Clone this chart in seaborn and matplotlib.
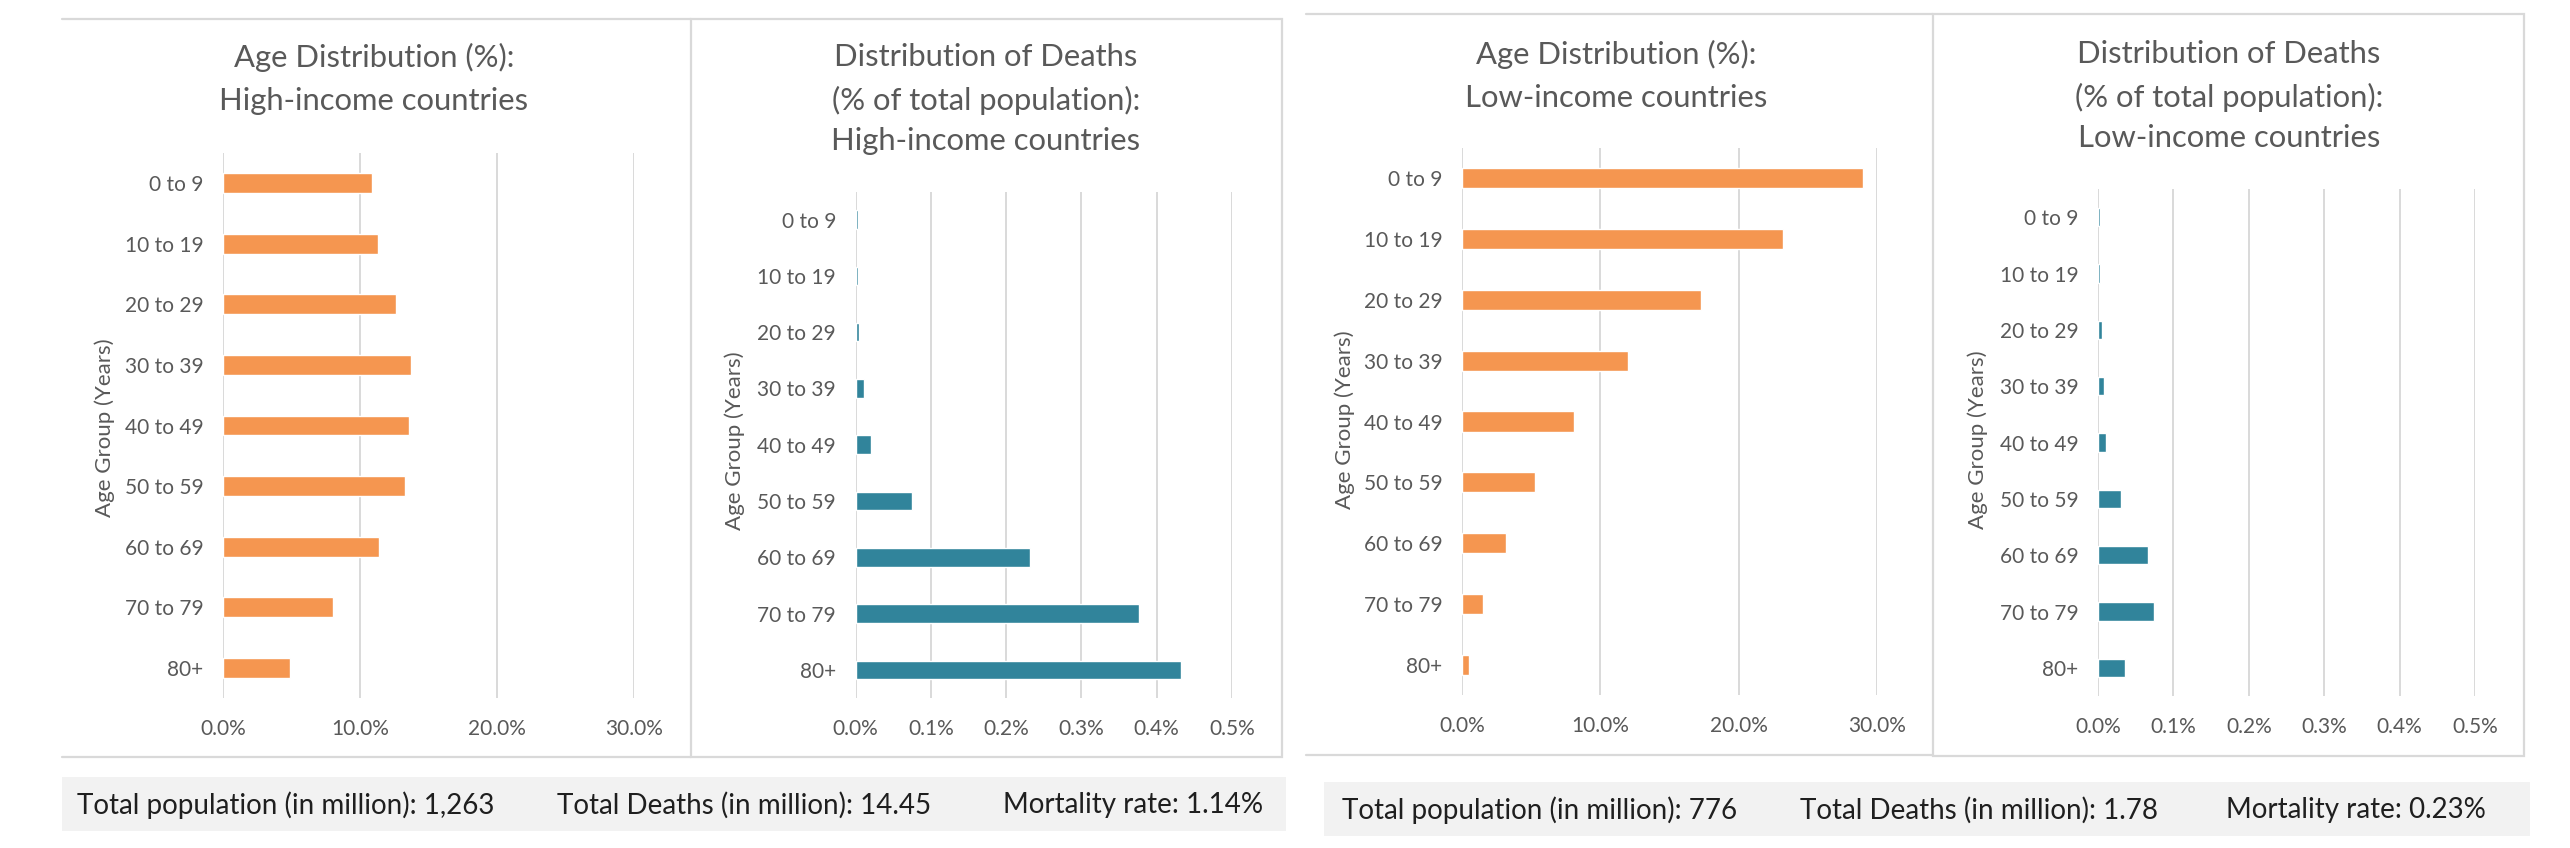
"""
Age distribution vs distribution of deaths, high- and low-income countries
(four horizontal bar panels, two summary bands underneath)
"""

import matplotlib
matplotlib.use("Agg")
import matplotlib.pyplot as plt
from matplotlib.lines import Line2D
from matplotlib.patches import Rectangle
from matplotlib.ticker import FuncFormatter
import seaborn as sns

# DATA #########################################################################
AGE_GROUPS = ['0 to 9', '10 to 19', '20 to 29', '30 to 39', '40 to 49',
              '50 to 59', '60 to 69', '70 to 79', '80+']

HIGH_AGE_PCT = [10.9, 11.3, 12.6, 13.7, 13.6, 13.3, 11.4, 8.0, 4.9]
HIGH_DEATH_PCT = [0.003, 0.003, 0.005, 0.011, 0.020, 0.075, 0.232, 0.377, 0.432]
LOW_AGE_PCT = [29.0, 23.2, 17.3, 12.0, 8.1, 5.3, 3.2, 1.5, 0.5]
LOW_DEATH_PCT = [0.003, 0.003, 0.005, 0.008, 0.010, 0.030, 0.066, 0.074, 0.036]

AGE_TICKS = [0, 10, 20, 30]
DEATH_TICKS = [0.0, 0.1, 0.2, 0.3, 0.4, 0.5]

TITLES = [
    ['Age Distribution (%):', 'High-income countries'],
    ['Distribution of Deaths', '(% of total population):', 'High-income countries'],
    ['Age Distribution (%):', 'Low-income countries'],
    ['Distribution of Deaths', '(% of total population):', 'Low-income countries'],
]
HIGH_FOOTER = ['Total population (in million): 1,263',
               'Total Deaths (in million): 14.45',
               'Mortality rate: 1.14%']
LOW_FOOTER = ['Total population (in million): 776',
              'Total Deaths (in million): 1.78',
              'Mortality rate: 0.23%']

# settings
W, H = 2570, 848
ORANGE = '#F59650'
TEAL = '#31849B'
GRID = '#d9d9d9'
GREY_TXT = '#595959'
FONT = ['Lato', 'DejaVu Sans']


def fx(x):
    return x / W


def fy(y):
    return 1 - y / H


def add_line(fig, x0, y0, x1, y1):
    fig.add_artist(Line2D([fx(x0), fx(x1)], [fy(y0), fy(y1)],
                          transform=fig.transFigure, color=GRID, lw=1.6))


def bar_panel(fig, rect, values, color, ticks):
    left, right, top, bottom = rect
    ax = fig.add_axes([fx(left), fy(bottom), (right - left) / W, (bottom - top) / H])
    sns.barplot(x=values, y=AGE_GROUPS, orient='h', color=color,
                saturation=1, width=0.33, ax=ax)
    ax.set_xlim(ticks[0], ticks[-1])
    ax.set_ylim(len(AGE_GROUPS) - 0.5, -0.5)
    ax.set_xticks(ticks)
    ax.xaxis.set_major_formatter(FuncFormatter(lambda v, p: f'{v:.1f}%'))
    ax.grid(axis='x', color=GRID, lw=1.4)
    ax.grid(axis='y', visible=False)
    ax.set_axisbelow(True)
    for s in ax.spines.values():
        s.set_visible(False)
    ax.tick_params(axis='both', length=0, labelsize=15, labelcolor=GREY_TXT)
    ax.tick_params(axis='y', pad=14)
    ax.tick_params(axis='x', pad=15)
    ax.set_xlabel('')
    ax.set_ylabel('')
    return ax


def main():
    sns.set_style('white')
    plt.rcParams['font.family'] = FONT

    fig = plt.figure(figsize=[W / 100, H / 100], dpi=100)

    # chart frames
    add_line(fig, 62, 19, 691, 19)
    add_line(fig, 62, 757, 691, 757)
    fig.add_artist(Rectangle((fx(691), fy(757)), (1282 - 691) / W, (757 - 19) / H,
                             transform=fig.transFigure, fill=False,
                             edgecolor=GRID, lw=1.6))
    add_line(fig, 1306, 14, 1933, 14)
    add_line(fig, 1306, 755, 1933, 755)
    fig.add_artist(Rectangle((fx(1933), fy(756)), (2524 - 1933) / W, (756 - 14) / H,
                             transform=fig.transFigure, fill=False,
                             edgecolor=GRID, lw=1.6))

    # panels
    bar_panel(fig, (223, 634, 153, 698), HIGH_AGE_PCT, ORANGE, AGE_TICKS)
    bar_panel(fig, (855.5, 1232, 191.5, 698), HIGH_DEATH_PCT, TEAL, DEATH_TICKS)
    bar_panel(fig, (1462, 1877, 148, 695), LOW_AGE_PCT, ORANGE, AGE_TICKS)
    bar_panel(fig, (2098, 2475, 189, 696), LOW_DEATH_PCT, TEAL, DEATH_TICKS)

    # titles
    title_pos = [(374, [57, 101]), (986, [57, 100, 141]),
                 (1616, [54, 98]), (2229, [54, 97, 138])]
    for (xc, ys), lines in zip(title_pos, TITLES):
        for y, line in zip(ys, lines):
            fig.text(fx(xc), fy(y), line, ha='center', va='center',
                     fontsize=22.3, color=GREY_TXT)

    # y labels
    for xc, yc in [(105, 428), (735, 441), (1345, 420), (1978, 440)]:
        fig.text(fx(xc), fy(yc), 'Age Group (Years)', rotation=90,
                 ha='center', va='center', fontsize=16, color=GREY_TXT)

    # summary bands
    fig.add_artist(Rectangle((fx(62), fy(831)), (1286 - 62) / W, 54 / H,
                             transform=fig.transFigure, color='#f2f2f2', lw=0))
    fig.add_artist(Rectangle((fx(1324), fy(836)), (2530 - 1324) / W, 54 / H,
                             transform=fig.transFigure, color='#f2f2f2', lw=0))
    for xs, yc, texts in [([77, 557, 1003], 805, HIGH_FOOTER),
                          ([1342, 1800, 2226], 810, LOW_FOOTER)]:
        for x, t in zip(xs, texts):
            fig.text(fx(x), fy(yc), t, ha='left', va='center',
                     fontsize=20, color='#1f1f1f')

    fig.savefig('out.png', dpi=100)


if __name__ == "__main__":
    main()
